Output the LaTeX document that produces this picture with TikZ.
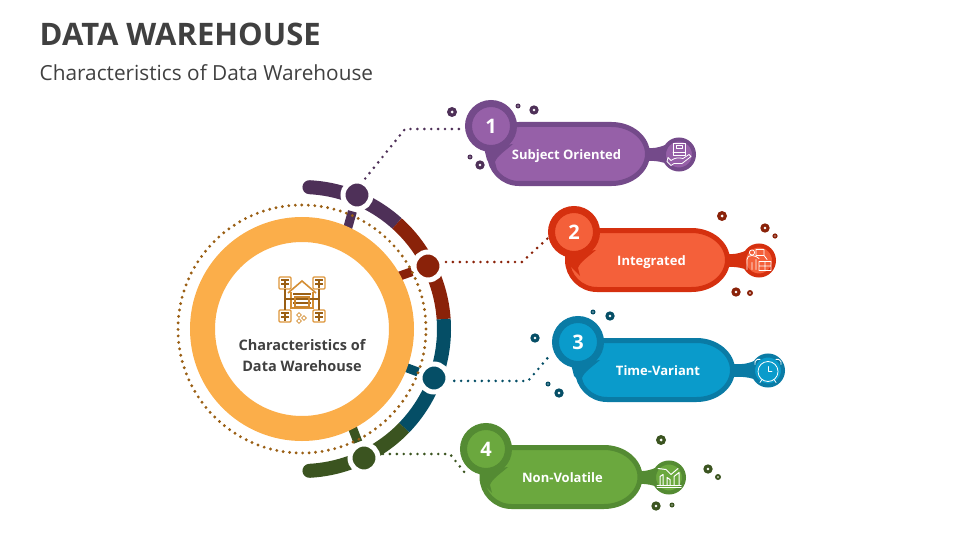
\documentclass[tikz,border=0pt]{standalone}
\usepackage{fontspec}
\usetikzlibrary{calc}
\setmainfont{Open Sans}
\definecolor{pA}{HTML}{9660A8}\definecolor{dA}{HTML}{744A8A}\definecolor{aA}{HTML}{4E3058}
\definecolor{pB}{HTML}{F4603A}\definecolor{dB}{HTML}{D5300F}\definecolor{aB}{HTML}{8A2209}
\definecolor{pC}{HTML}{0A9BCB}\definecolor{dC}{HTML}{0A7BA5}\definecolor{aC}{HTML}{054E66}
\definecolor{pD}{HTML}{6BA83E}\definecolor{dD}{HTML}{548B33}\definecolor{aD}{HTML}{3B5420}
\definecolor{ringO}{HTML}{FBAE4A}\definecolor{brownD}{HTML}{9A5F14}\definecolor{ink}{HTML}{404040}
\tikzset{
 bigarc/.style={line width=14pt},
 spoke/.style={line width=9pt},
 hub/.style={circle,fill=#1,draw=white,line width=5pt,minimum size=28pt,inner sep=0pt},
 dotline/.style={line width=2.9pt,line cap=round,dash pattern=on 0pt off 6.9pt,draw=#1},
 pilllabel/.style={rectangle,inner sep=0pt,text=white,text height=11pt,text depth=0pt,font=\fontsize{13}{16}\selectfont\bfseries},
 badge/.style n args={2}{circle,draw=#1,fill=#2,line width=7pt,minimum size=45pt,inner sep=0pt,text=white,font=\fontsize{20}{22}\selectfont\bfseries},
 tip/.style n args={2}{circle,draw=#1,fill=#2,line width=4pt,minimum size=30pt,inner sep=0pt},
 icon/.style={draw=white,line width=.8pt,line join=round,line cap=round},
 cicon/.style={draw=brownD,line width=1.1pt},
}
\newcommand{\speck}[4]{\fill[#1,even odd rule] (#2,#3) circle[radius=#4 pt] (#2,#3) circle[radius=0.35*#4 pt];}
\newcommand{\pillgroup}[9]{% name cx width cy badgex badgey tipx dark light; number/text set before
 \fill[#8] (#7-34,#4-6) .. controls (#7-26,#4-5.5) and (#7-21,#4-6) .. (#7-14,#4-9) -- (#7-14,#4+9) .. controls (#7-21,#4+7) and (#7-26,#4+6.5) .. (#7-34,#4+7) -- cycle;
 \draw[#8,fill=#9,line width=5pt] (#2-#3/2+29.5,#4-29.5) -- (#2+#3/2-36,#4-29.5)
   .. controls (#2+#3/2-16,#4-29.5) and (#2+#3/2,#4-16) .. (#2+#3/2,#4)
   .. controls (#2+#3/2,#4+16) and (#2+#3/2-16,#4+29.5) .. (#2+#3/2-36,#4+29.5)
   -- (#2-#3/2+29.5,#4+29.5)
   .. controls (#2-#3/2+13,#4+29.5) and (#2-#3/2,#4+16) .. (#2-#3/2,#4)
   .. controls (#2-#3/2,#4-16) and (#2-#3/2+13,#4-29.5) .. (#2-#3/2+29.5,#4-29.5) -- cycle;
 \node[pilllabel] (pill#1) at (#2,#4) {\pilltext};
 \fill[#8] (#5-7,#6+22) -- (#5-4,#6+34) -- (#5+6,#6+44) -- (#5+4,#6+36) .. controls (#5+6,#6+30) and (#5+14,#6+25) .. (#5+22,#6+18) -- cycle;
 \node[badge={#8}{#9}] (badge#1) at (#5,#6) {\pillnum};
 \node[tip={#8}{#9}] (tip#1) at (#7,#4+0.5) {};
}
\begin{document}
\begin{tikzpicture}[x=1pt,y=-1pt]
\useasboundingbox (0,0) rectangle (960,540);
\node[anchor=base west,inner sep=0pt,text=ink,font=\fontsize{31}{34}\selectfont\bfseries] (title) at (39.5,46) {DATA WAREHOUSE};
\node[anchor=base west,inner sep=0pt,text=ink,font=\fontsize{20.8}{22}\selectfont] (sub) at (39.5,81) {Characteristics of Data Warehouse};

\coordinate (ctr) at (302,329);
\draw[bigarc,aA,line cap=round] (ctr)++(87:142pt) arc[start angle=87,end angle=70,radius=142pt];
\draw[bigarc,aA] (ctr)++(70:142pt) arc[start angle=70,end angle=48,radius=142pt];
\draw[bigarc,aB] (ctr)++(48:142pt) arc[start angle=48,end angle=4,radius=142pt];
\draw[bigarc,aC] (ctr)++(4:142pt) arc[start angle=4,end angle=-44,radius=142pt];
\draw[bigarc,aD] (ctr)++(-44:142pt) arc[start angle=-44,end angle=-70,radius=142pt];
\draw[bigarc,aD,line cap=round] (ctr)++(-70:142pt) arc[start angle=-70,end angle=-87,radius=142pt];

\coordinate (spA) at (346,234);\coordinate (spB) at (394,278);\coordinate (spC) at (402,366);\coordinate (spD) at (351,424);
\node[hub=aA] (hubA) at (357,195) {};
\node[hub=aB] (hubB) at (428,266) {};
\node[hub=aC] (hubC) at (434,378) {};
\node[hub=aD] (hubD) at (364,458) {};
\draw[spoke,aA] (spA) -- ($(hubA)!17pt!(spA)$);
\draw[spoke,aB] (spB) -- ($(hubB)!17pt!(spB)$);
\draw[spoke,aC] (spC) -- ($(hubC)!17pt!(spC)$);
\draw[spoke,aD] (spD) -- ($(hubD)!17pt!(spD)$);

\draw[dotline=brownD,dash pattern=on 0pt off 6.5pt,line width=3.2pt] (ctr) circle[radius=124pt];
\node[circle,draw=ringO,line width=25pt,fill=white,minimum size=199pt,inner sep=0pt] (ring) at (ctr) {};
\node[align=center,inner sep=0pt,text=ink,font=\fontsize{14.5}{21}\selectfont\bfseries] (ctext) at (302,355.5) {Characteristics of\\Data Warehouse};

% centre icon
\begin{scope}[cicon]
 \foreach \x/\y in {285/283,319/283,285/316,319/316}{
  \draw[rounded corners=1pt,draw=ringO!70!brownD] (\x-6,\y-6) rectangle (\x+6,\y+6);
  \draw (\x-4,\y-3) -- (\x+4,\y-3) (\x-4,\y+1) -- (\x+4,\y+1) (\x,\y-3) -- (\x,\y+5);
 }
 \draw[draw=ringO!60!brownD,line width=1.6pt] (288,293) -- (302,281) -- (316,293);
 \draw[draw=ringO!60!brownD] (291,292) -- (291,308) -- (313,308) -- (313,292);
 \draw (285,289) -- (285,310) (319,289) -- (319,310) (285,299) -- (319,299) (293,294) -- (311,294) (293,303) -- (311,303);
 \draw[draw=ringO!50!brownD] (295,297) rectangle (309,307);
 \foreach \x/\y in {299/315,304/318,299/321}{\draw[draw=ringO!60!brownD,line width=.8pt,rotate around={45:(\x,\y)}] (\x-1.7,\y-1.7) rectangle (\x+1.7,\y+1.7);}
\end{scope}

% pills
\def\pilltext{Subject Oriented\kern4pt}\def\pillnum{1}
\pillgroup{A}{568.5}{158}{154}{491}{126}{679}{dA}{pA}
\def\pilltext{\kern8pt Integrated}\def\pillnum{2}
\pillgroup{B}{647.5}{160}{260}{574}{232}{759}{dB}{pB}
\def\pilltext{\kern6pt Time-Variant}\def\pillnum{3}
\pillgroup{C}{655}{155}{370}{578}{342}{768}{dC}{pC}
\def\pilltext{\kern3pt Non-Volatile}\def\pillnum{4}
\pillgroup{D}{561}{158}{477}{486}{449}{669}{dD}{pD}

% connectors
\coordinate (cnA) at (405,129);\coordinate (cnB) at (522,262);\coordinate (cnC) at (528,381);\coordinate (cnD) at (450,454);
\coordinate (endB) at (548,238);\coordinate (endC) at (551,354);\coordinate (endD) at (465,473);
\draw[dotline=aA,shorten <=2pt,shorten >=3pt] (hubA.65) -- (cnA) -- (badgeA.west |- cnA);
\draw[dotline=aB,shorten <=2pt] (hubB.14) -- (cnB) -- (endB);
\draw[dotline=aC,shorten <=4pt] (hubC.-10) -- (cnC) -- (endC);
\draw[dotline=aD,shorten <=3pt] (hubD.14) -- (cnD) -- (endD);

% specks
\speck{aA}{452}{112}{5}\speck{aA}{518}{106}{2.5}\speck{aA}{534}{110}{4.7}\speck{aA}{470}{157}{2.5}\speck{aA}{480}{165}{4.7}
\speck{aB}{722}{216}{5}\speck{aB}{765}{228}{4.7}\speck{aB}{775}{236}{2.6}\speck{aB}{736}{292}{4.7}\speck{aB}{750}{293}{3}
\speck{aC}{535}{338}{4.7}\speck{aC}{593}{312}{2.5}\speck{aC}{610}{316}{4.7}\speck{aC}{548}{384}{2.5}\speck{aC}{559}{393}{4.7}
\speck{aD}{661}{440}{5}\speck{aD}{708}{469}{4.7}\speck{aD}{718}{477}{3}\speck{aD}{656}{506}{4.7}\speck{aD}{672}{505}{2.5}

% book + hand
\begin{scope}[shift={(tipA)},icon]
 \draw (-6,-11) rectangle (6,1) (-6,-2) -- (6,-2) (-3,-9) rectangle (3,-6);
 \draw (-11,3) -- (-8,6) .. controls (-4,3) and (0,3) .. (4,4) -- (10,0) -- (12,2) -- (3,9) -- (-5,9) -- (-8,11) -- (-12,7) -- (-11,3);
\end{scope}
% person + puzzle
\begin{scope}[shift={(tipB)},icon]
 \draw (-7,-8) circle[radius=2.6pt];
 \draw (-12,9) -- (-12,-1) .. controls (-12,-4) and (-10,-5) .. (-7,-5) -- (-3,-4) -- (0,-2) (-3,-1) -- (-3,9) (-7,2) -- (-7,9);
 \draw (-3,-11) rectangle (5,-5) (0,1) rectangle (12,10) (6,1) -- (6,10) (0,5.5) -- (12,5.5) (5,-5) -- (8,-1);
\end{scope}
% alarm clock
\begin{scope}[shift={(tipC)},icon]
 \draw (0,1) circle[radius=10pt];
 \draw (0,-4) -- (0,1) -- (4,1);
 \draw (-13,-6) arc[start angle=200,end angle=70,radius=4pt];
 \draw (13,-6) arc[start angle=-20,end angle=110,radius=4pt];
 \draw (-6,9) -- (-8,12) (6,9) -- (8,12);
\end{scope}
% chart
\begin{scope}[shift={(tipD)},icon,line width=1pt]
 \draw (-12,10) -- (12,10) (-12,8) -- (12,8);
 \draw (-9,8) -- (-9,-1) -- (-6,-3) -- (-6,8) (-2,8) -- (-2,0) -- (1,2) -- (1,8) (5,8) -- (5,-1) -- (10,-5) -- (10,8);
 \draw (-11,-9) -- (-3,-8) -- (2,-3) -- (9,-9);
\end{scope}
\end{tikzpicture}
\end{document}
